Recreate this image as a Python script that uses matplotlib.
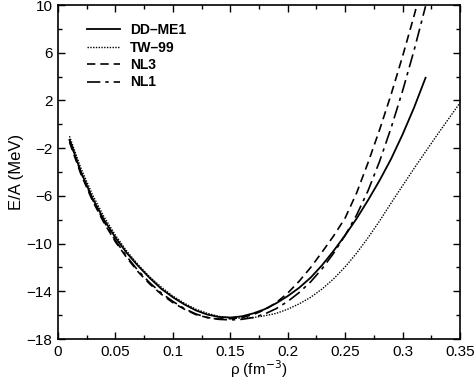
import numpy as np
import matplotlib
matplotlib.use('Agg')
import matplotlib.pyplot as plt
from matplotlib.ticker import MultipleLocator, FuncFormatter

plt.rcParams['font.family'] = ['Liberation Sans', 'DejaVu Sans']

# densities (fm^-3) and E/A (MeV)
rho = [0.01, 0.02, 0.03, 0.04, 0.05, 0.06, 0.07, 0.08, 0.09, 0.10, 0.11,
       0.12, 0.13, 0.14, 0.15, 0.16, 0.17, 0.18, 0.19, 0.20, 0.21, 0.22,
       0.23, 0.24, 0.25, 0.26, 0.27, 0.28, 0.29, 0.30, 0.31, 0.32]
rho_tw = rho + [0.33, 0.34, 0.35]

dd_me1 = [-1.3, -4.0, -6.2, -8.0, -9.5, -10.8, -11.9, -12.9, -13.8, -14.5, -15.1,
          -15.6, -15.95, -16.15, -16.2, -16.1, -15.85, -15.5, -15.0, -14.4, -13.7, -12.85,
          -11.8, -10.6, -9.3, -7.9, -6.35, -4.7, -2.9, -0.85, 1.4, 3.9]
tw_99 = [-1.0, -3.7, -5.9, -7.75, -9.3, -10.65, -11.8, -12.8, -13.65, -14.4, -15.0,
         -15.5, -15.85, -16.1, -16.22, -16.25, -16.2, -16.05, -15.85, -15.5, -15.05, -14.5,
         -13.8, -12.95, -11.95, -10.8, -9.5, -8.1, -6.6, -5.15, -3.7, -2.3,
         -0.9, 0.45, 1.8]
nl3 = [-1.5, -4.2, -6.4, -8.25, -9.85, -11.2, -12.4, -13.4, -14.25, -14.95, -15.5,
       -15.95, -16.2, -16.32, -16.3, -16.2, -15.95, -15.55, -14.95, -14.15, -13.15, -12.0,
       -10.7, -9.35, -7.85, -5.75, -3.2, -0.45, 2.5, 5.7, 9.1, 12.7]
nl1 = [-1.3, -4.05, -6.3, -8.15, -9.75, -11.1, -12.3, -13.3, -14.15, -14.85, -15.45,
       -15.9, -16.2, -16.35, -16.4, -16.35, -16.2, -15.9, -15.45, -14.85, -14.1, -13.2,
       -12.1, -10.8, -9.3, -7.6, -5.55, -3.1, -0.3, 2.8, 6.2, 9.9]

fig = plt.figure(figsize=(4.74, 3.79), dpi=100)
ax = fig.add_axes([0.1224, 0.1055, 0.8481, 0.8813])

ax.plot(rho, dd_me1, color='black', lw=1.3, ls='-', label='DD\u2013ME1')
ax.plot(rho_tw, tw_99, color='black', lw=1.0, ls=(0, (1, 1)), label='TW\u201399')
ax.plot(rho, nl3, color='black', lw=1.2, ls=(0, (5, 3)), label='NL3')
ax.plot(rho, nl1, color='black', lw=1.2, ls=(0, (8, 3, 2, 3)), label='NL1')

ax.set_xlim(0, 0.35)
ax.set_ylim(-18, 10)
ax.xaxis.set_major_locator(MultipleLocator(0.05))
ax.xaxis.set_minor_locator(MultipleLocator(0.025))
ax.yaxis.set_minor_locator(MultipleLocator(2))
ax.set_yticks([-18, -14, -10, -6, -2, 2, 6, 10])
ax.xaxis.set_major_formatter(FuncFormatter(lambda v, p: '%g' % round(v, 3)))
ax.yaxis.set_major_formatter(FuncFormatter(lambda v, p: ('%d' % v).replace('-', '\u2212')))
ax.tick_params(which='both', direction='in', top=True, right=True, labelsize=11, width=1)
ax.tick_params(which='major', length=5, pad=4)
ax.tick_params(which='minor', length=3)
for s in ax.spines.values():
    s.set_linewidth(1.2)

ax.set_xlabel('\u03c1 (fm$^{-3}$)', fontsize=11, labelpad=0)
ax.set_ylabel('E/A (MeV)', fontsize=12, labelpad=2)

leg = ax.legend(loc='upper left', frameon=False, fontsize=10, handlelength=2.4,
                handletextpad=0.7, labelspacing=0.25, borderpad=0, borderaxespad=0,
                bbox_to_anchor=(0.072, 0.946))
for t in leg.get_texts():
    t.set_fontweight('bold')

fig.savefig('out.png', dpi=100)
